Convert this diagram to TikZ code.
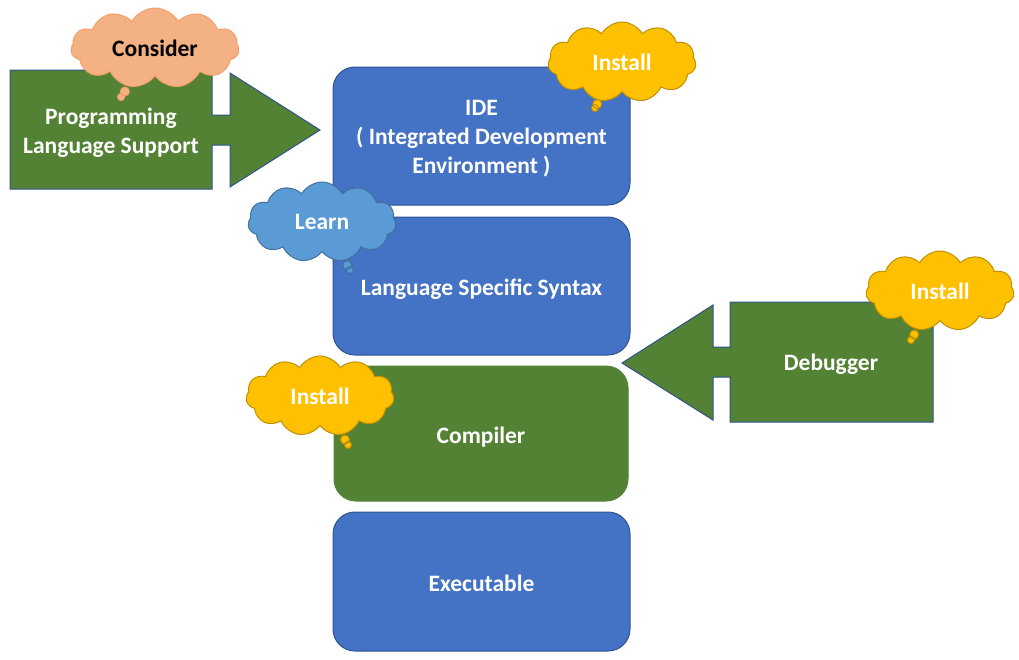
\documentclass[tikz,border=0pt]{standalone}
\usepackage{fontspec}
\setmainfont{Carlito}
\usetikzlibrary{shapes.callouts,shapes.symbols}
\definecolor{boxblue}{HTML}{4472C4}
\definecolor{boxblueline}{HTML}{2F528F}
\definecolor{boxgreen}{HTML}{548235}
\definecolor{cloudyellow}{HTML}{FFC000}
\definecolor{cloudyellowline}{HTML}{BF9000}
\definecolor{cloudblue}{HTML}{5B9BD5}
\definecolor{cloudblueline}{HTML}{41719C}
\definecolor{cloudsalmon}{HTML}{F4B183}
\definecolor{cloudsalmonline}{HTML}{F4A06A}
\begin{document}
\begin{tikzpicture}[x=1pt,y=-1pt,
  txt/.style={text=white,font=\bfseries\fontsize{23.5}{29}\selectfont,align=center},
  stagebox/.style={rounded corners=22pt,minimum width=297pt,minimum height=138pt,
    fill=boxblue,draw=boxblueline,line width=1pt},
  greenbox/.style={stagebox,fill=boxgreen,draw=boxgreen},
  bigarrow/.style={fill=boxgreen,draw=boxblueline,line width=1pt,line join=miter},
  thought/.style={cloud callout,cloud puffs=11,cloud puff arc=120,aspect=1.8,
    minimum width=148pt,minimum height=80pt,inner sep=-6pt,line width=1pt,
    callout pointer segments=2,callout pointer start size=13pt and 11pt,
    callout pointer end size=8pt and 7pt,txt},
  ythought/.style={thought,fill=cloudyellow,draw=cloudyellowline},
  bthought/.style={thought,fill=cloudblue,draw=cloudblueline},
  sthought/.style={thought,fill=cloudsalmon,draw=cloudsalmonline,text=black,minimum width=168pt}
]
\useasboundingbox (0,0) rectangle (1019,659);

% stage boxes
\node[stagebox] (ide) at (481.5,136) {};
\node[txt] (idetext) at (481.5,139) {IDE\\( Integrated Development\\Environment )};
\node[stagebox] (syntax) at (481.5,286) {};
\node[txt] (syntaxtext) at (481.5,289) {Language Specific Syntax};
\node[greenbox,minimum width=294pt,minimum height=135pt] (compiler) at (481,433.5) {};
\node[txt] (compilertext) at (481,437) {Compiler};
\node[stagebox,minimum height=139pt] (exe) at (481.5,581.5) {};
\node[txt] (exetext) at (481.5,583) {Executable};

% left arrow
\draw[bigarrow] (10,70) -- (212,70) -- (212,115) -- (230,115) -- (230,73) -- (320,130)
  -- (230,187) -- (230,145) -- (212,145) -- (212,189) -- (10,189) -- cycle;
\node[txt] (pls) at (111,133) {Programming\\Language Support};

% right arrow
\draw[bigarrow] (933,302) -- (730,302) -- (730,347) -- (713,347) -- (713,305) -- (622,363)
  -- (713,420) -- (713,377) -- (730,377) -- (730,422) -- (933,422) -- cycle;
\node[txt] (dbg) at (831,364) {Debugger};

% thought clouds
\node[sthought,callout absolute pointer={(121,97)}] (consider) at (155,48) {Consider};
\node[ythought,callout absolute pointer={(595,108)}] (inst1) at (622,62) {Install};
\node[bthought,callout absolute pointer={(350,270)}] (learn) at (322,222) {Learn};
\node[ythought,callout absolute pointer={(911,340)}] (inst2) at (940,291) {Install};
\node[ythought,callout absolute pointer={(348,445)}] (inst3) at (320,396) {Install};
\end{tikzpicture}
\end{document}
